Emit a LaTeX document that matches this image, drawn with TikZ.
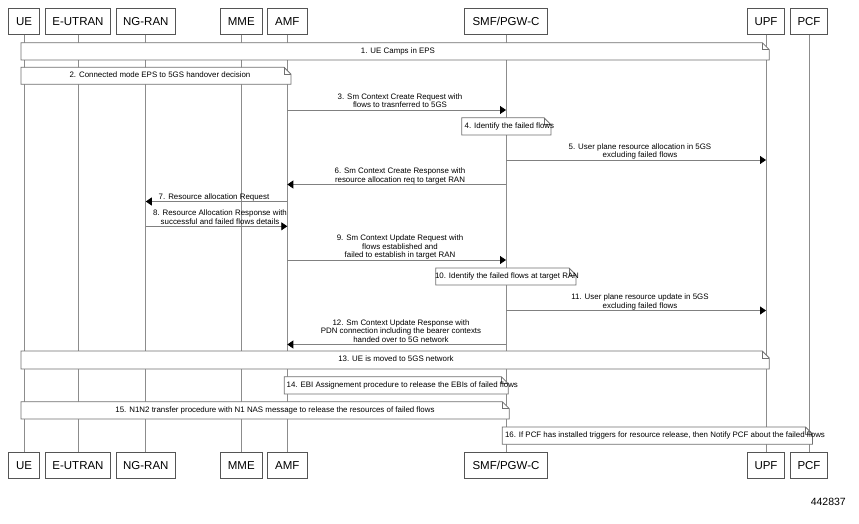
\documentclass[tikz,border=0pt]{standalone}
\usepackage{fontspec}
\setmainfont{Liberation Sans}
\usetikzlibrary{arrows.meta}
\definecolor{boxline}{HTML}{555555}
\definecolor{lifeline}{HTML}{8C8C8C}
\definecolor{msgline}{HTML}{808080}
\definecolor{noteline}{HTML}{707070}
\tikzset{
 part/.style={draw=boxline, fill=white, line width=0.8pt, minimum height=26pt, inner sep=0pt, font=\fontsize{11.5}{13}\selectfont},
 life/.style={draw=lifeline, line width=0.8pt},
 msg/.style={draw=msgline, line width=0.8pt, -{Triangle[length=6pt,width=8pt,color=black]}},
 lbl/.style={anchor=south, inner sep=0pt, align=center, font=\fontsize{7.9}{8.5}\selectfont},
 notebg/.style={draw=noteline, fill=white, line width=0.8pt},
 ntxt/.style={inner sep=0pt, font=\fontsize{7.9}{8.5}\selectfont},
}
\newcommand\notebox[4]{%
 \filldraw[notebg] (#1,#2) -- (#3-7,#2) -- (#3,#2+7) -- (#3,#4) -- (#1,#4) -- cycle;
 \draw[notebg, fill=none] (#3-7,#2) -- (#3-7,#2+7) -- (#3,#2+7);}
\begin{document}
\begin{tikzpicture}[x=1pt,y=-1pt]
\useasboundingbox[fill=white] (0,0) rectangle (859,524);
% participants top
\node[part, minimum width=30.7pt] (ueT) at (24,21.3) {UE};
\node[part, minimum width=65.4pt] (eutT) at (78,21.3) {E-UTRAN};
\node[part, minimum width=59.4pt] (ngT) at (145.8,21.3) {NG-RAN};
\node[part, minimum width=41.4pt] (mmeT) at (241.3,21.3) {MME};
\node[part, minimum width=40pt] (amfT) at (287.3,21.3) {AMF};
\node[part, minimum width=83pt] (smfT) at (506,21.3) {SMF/PGW-C};
\node[part, minimum width=37pt] (upfT) at (766,21.3) {UPF};
\node[part, minimum width=36.6pt] (pcfT) at (809,21.3) {PCF};
% participants bottom
\node[part, minimum width=30.7pt] (ueB) at (24,465.5) {UE};
\node[part, minimum width=65.4pt] (eutB) at (78,465.5) {E-UTRAN};
\node[part, minimum width=59.4pt] (ngB) at (145.8,465.5) {NG-RAN};
\node[part, minimum width=41.4pt] (mmeB) at (241.3,465.5) {MME};
\node[part, minimum width=40pt] (amfB) at (287.3,465.5) {AMF};
\node[part, minimum width=83pt] (smfB) at (506,465.5) {SMF/PGW-C};
\node[part, minimum width=37pt] (upfB) at (766,465.5) {UPF};
\node[part, minimum width=36.6pt] (pcfB) at (809,465.5) {PCF};
% lifelines
\foreach \p in {ue,eut,ng,mme,amf,smf,upf,pcf}{\draw[life] (\p T.south) -- (\p B.north);}
% row coordinates
\coordinate (y3) at (0,110);
\coordinate (y5) at (0,160);
\coordinate (y6) at (0,184.5);
\coordinate (y7) at (0,201.5);
\coordinate (y8) at (0,226.3);
\coordinate (y9) at (0,260);
\coordinate (y11) at (0,310.5);
\coordinate (y12) at (0,344.5);
% 1
\notebox{21}{42.7}{769.3}{60}
\node[ntxt] (n1) at (398,51.4) {1. UE Camps in EPS\strut};
% 2
\notebox{21}{67.3}{291}{84.3}
\node[ntxt] (n2) at (160,75.8) {2. Connected mode EPS to 5GS handover decision\strut};
% 3
\draw[msg] (amfT |- y3) -- (smfT |- y3);
\node[lbl] (l3) at (400,110.6) {3. Sm Context Create Request with\\flows to trasnferred to 5GS\strut};
% 4
\notebox{461.7}{117.7}{551}{135}
\node[ntxt, anchor=west] (n4) at (464.5,126.4) {4. Identify the failed flows\strut};
% 5
\draw[msg] (smfT |- y5) -- (upfT |- y5);
\node[lbl] (l5) at (640,160.6) {5. User plane resource allocation in 5GS\\excluding failed flows\strut};
% 6
\draw[msg] (smfT |- y6) -- (amfT |- y6);
\node[lbl] (l6) at (400,185.1) {6. Sm Context Create Response with\\resource allocation req to target RAN\strut};
% 7
\draw[msg] (amfT |- y7) -- (ngT |- y7);
\node[lbl] (l7) at (214,202.1) {7. Resource allocation Request\strut};
% 8
\draw[msg] (ngT |- y8) -- (amfT |- y8);
\node[lbl] (l8) at (220,226.9) {8. Resource Allocation Response with\\successful and failed flows details\strut};
% 9
\draw[msg] (amfT |- y9) -- (smfT |- y9);
\node[lbl] (l9) at (400,260.6) {9. Sm Context Update Request with\\flows established and\\failed to establish in target RAN\strut};
% 10
\notebox{435.7}{268}{576}{285}
\node[ntxt] (n10) at (507,276.6) {10. Identify the failed flows at target RAN\strut};
% 11
\draw[msg] (smfT |- y11) -- (upfT |- y11);
\node[lbl] (l11) at (640,311.1) {11. User plane resource update in 5GS\\excluding failed flows\strut};
% 12
\draw[msg] (smfT |- y12) -- (amfT |- y12);
\node[lbl] (l12) at (401,345.1) {12. Sm Context Update Response with\\PDN connection including the bearer contexts\\handed over to 5G network\strut};
% 13
\notebox{21}{351}{769.3}{369}
\node[ntxt] (n13) at (396,360.1) {13. UE is moved to 5GS network\strut};
% 14
\notebox{284.3}{376.7}{508.3}{394}
\node[ntxt, anchor=west] (n14) at (286.5,385.4) {14. EBI Assignement procedure to release the EBIs of failed flows\strut};
% 15
\notebox{21}{401.7}{509.3}{419}
\node[ntxt] (n15) at (275,410.4) {15. N1N2 transfer procedure with N1 NAS message to release the resources of failed flows\strut};
% 16
\notebox{502.3}{427}{812.5}{444.3}
\node[ntxt, anchor=west] (n16) at (504.8,435.7) {16. If PCF has installed triggers for resource release, then Notify PCF about the failed flows\strut};
% footer
\node[anchor=east, inner sep=0pt, font=\fontsize{10.5}{12}\selectfont] (fig) at (846,502) {442837};
\end{tikzpicture}
\end{document}
